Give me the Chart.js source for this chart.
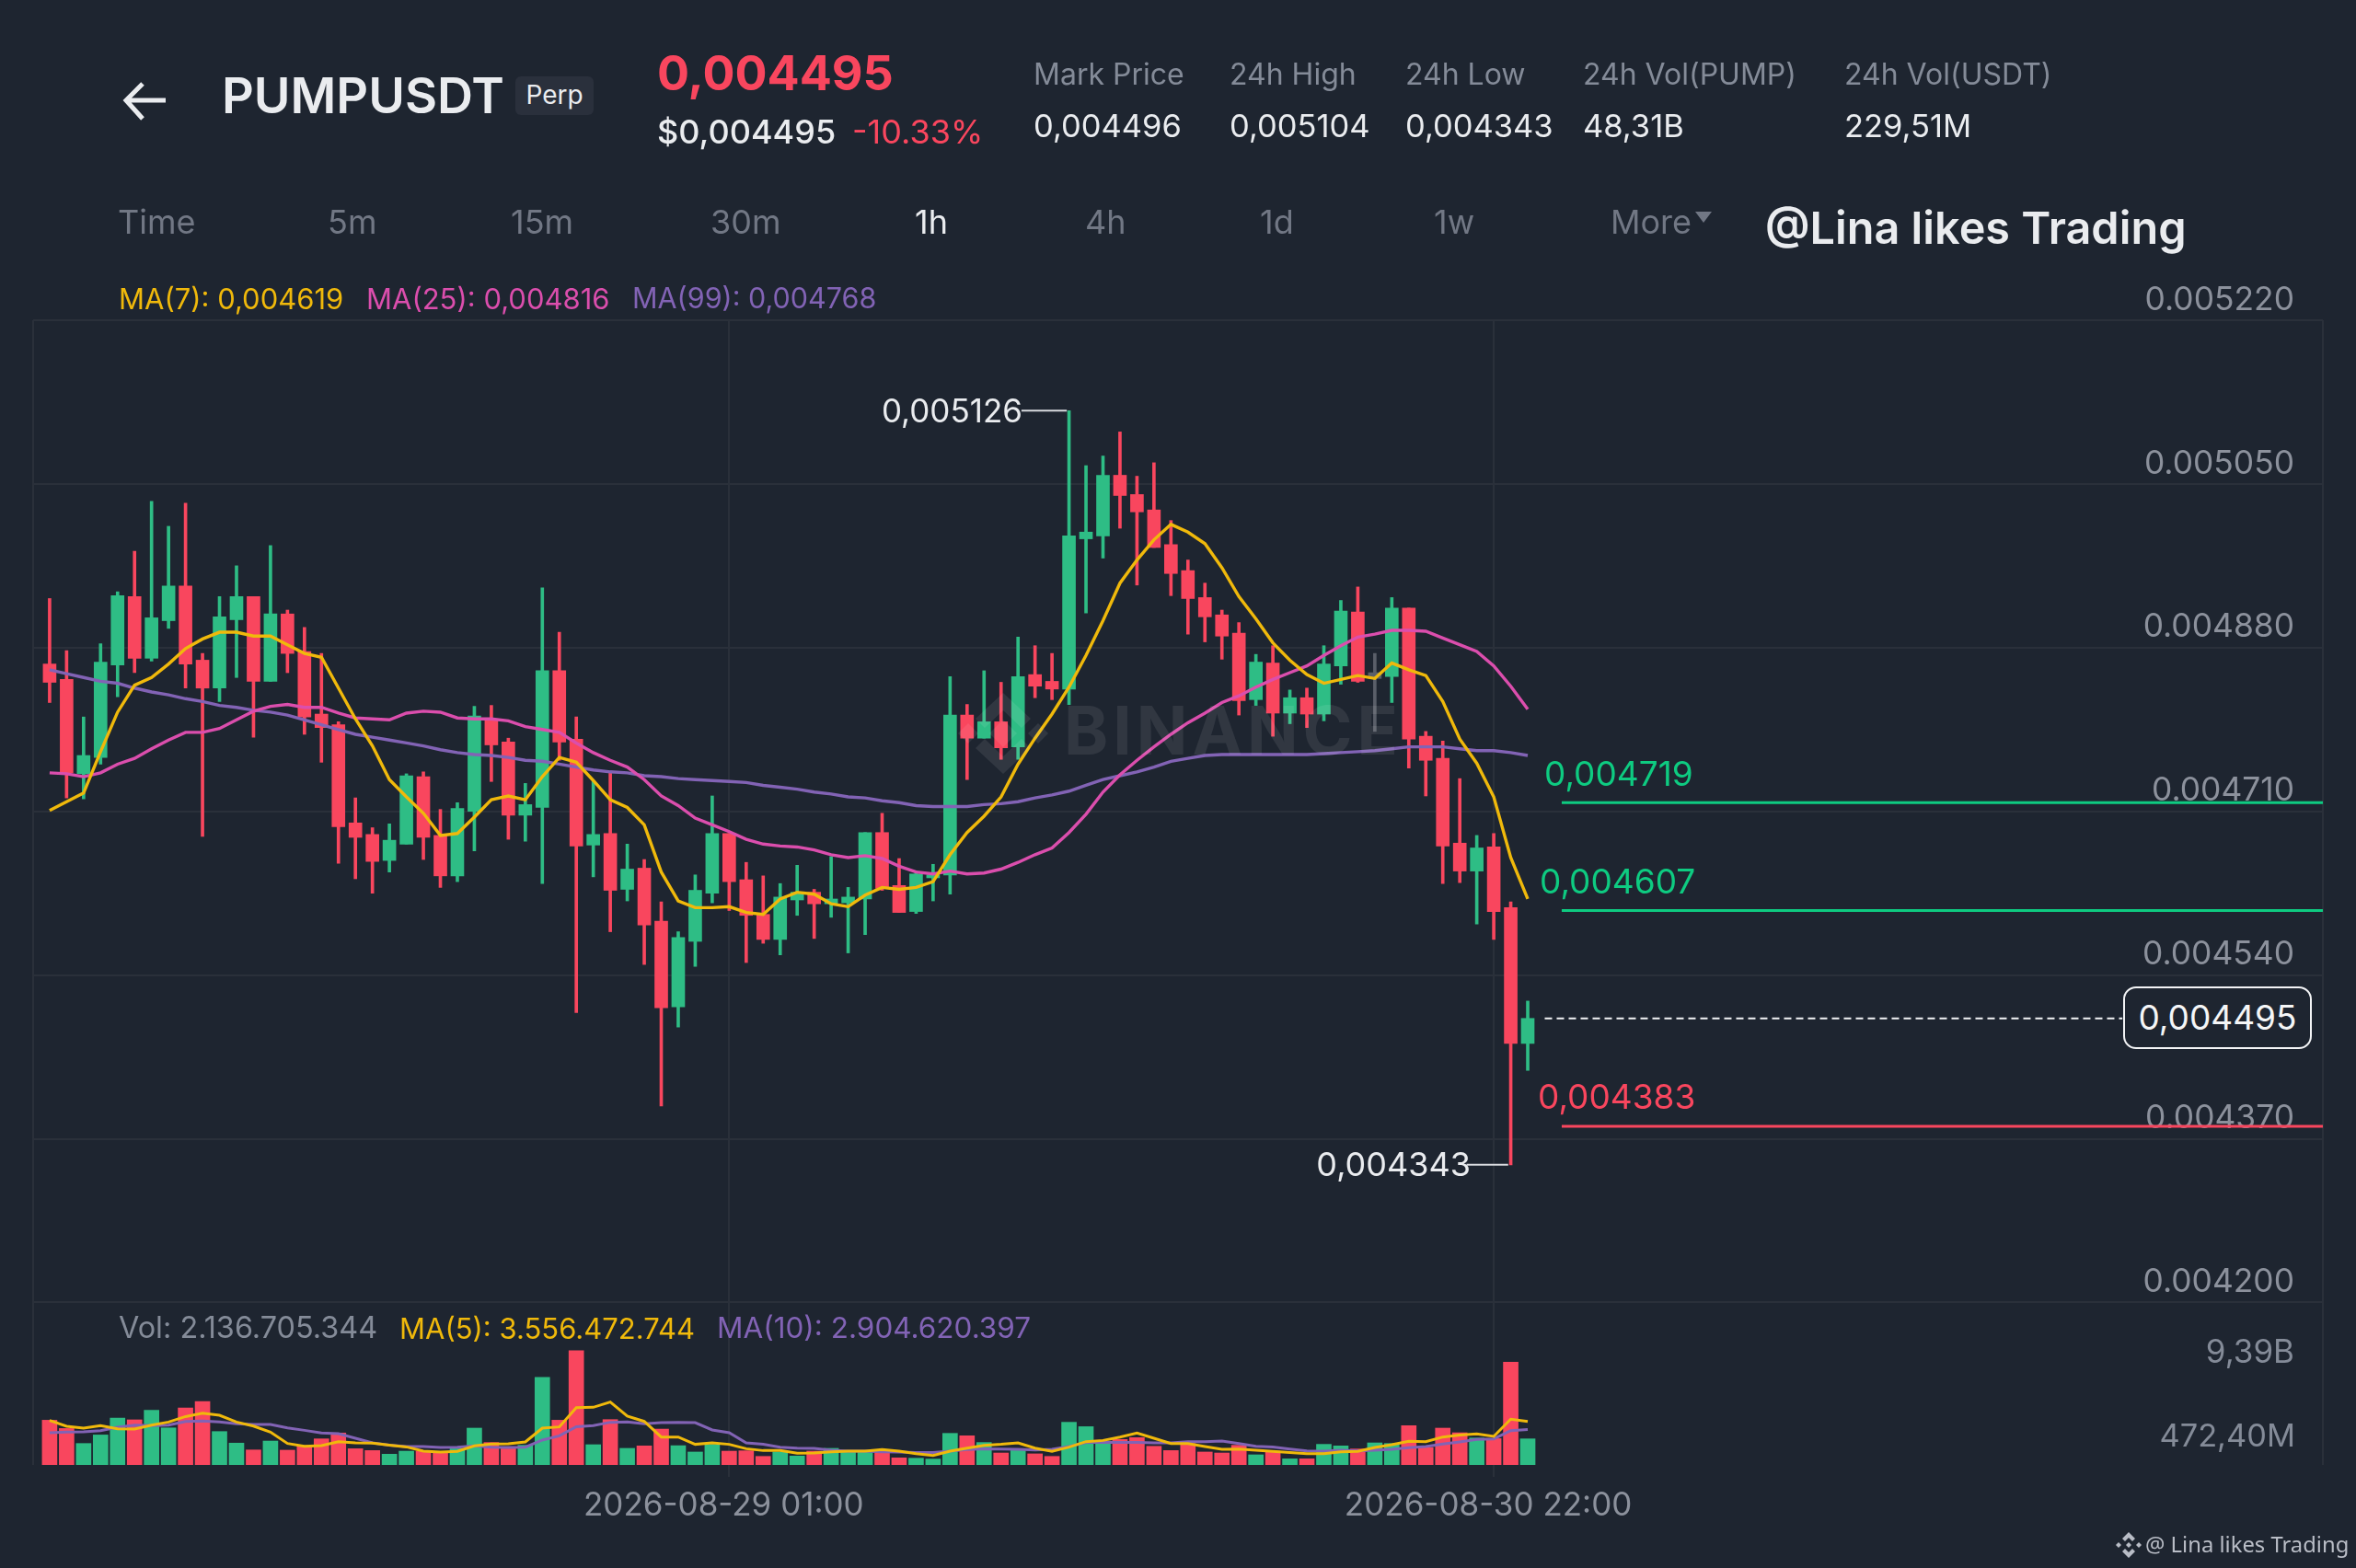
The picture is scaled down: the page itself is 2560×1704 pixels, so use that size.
<!DOCTYPE html>
<html lang="en">
<head>
<meta charset="UTF-8">
<title>PUMPUSDT Perp</title>
<script src="https://cdn.jsdelivr.net/npm/chart.js"></script>
<style>
    html, body { margin: 0; padding: 0; background: #1E2530; }
    #page { position: relative; width: 2560px; height: 1704px; overflow: hidden; background: #1E2530; font-family: Inter, sans-serif; }
    canvas { position: absolute; left: 0; top: 0; }
    .t { position: absolute; line-height: 1; white-space: nowrap; transform: translateY(-50%); font-size: 34.5px; }
    .gray { color: #848B98; }
    .head { font-size: 32px; }
    .white { color: #EAECEF; }
    .tab { font-size: 36px; color: #717784; }
    .ma { font-size: 31px; }
    .yellow { color: #F0B90B; }
    .pink { color: #DB4EAD; }
    .purple { color: #8263B5; }
    .green { color: #0ECB81; }
    .red { color: #F9465E; }
    .lvl { font-size: 37px; }
    #perp { position: absolute; left: 560px; top: 83px; width: 85px; height: 42px; border-radius: 6px; background: #2A303C; color: #EAECEF; font-size: 28px; line-height: 40px; text-align: center; }
    #lastbox { position: absolute; left: 2307px; top: 1072px; width: 201px; height: 64px; border: 2px solid #F2F3F5; border-radius: 14px; background: #1E2530; color: #F5F6F7; font-size: 37px; line-height: 64px; text-align: center; }
    #wm { position: absolute; left: 1156px; top: 793px; transform: translateY(-50%); font-size: 73px; font-weight: 700; line-height: 1; letter-spacing: 5px; color: rgba(255,255,255,0.085); }
</style>
</head>
<body>
<div id="page">
    <canvas id="chart" width="2560" height="1704"></canvas>

    <!--header-->
    <svg style="position:absolute;left:0;top:0" width="200" height="200"><path d="M180 109H137M155 91L137 109L155 129" fill="none" stroke="#EAECEF" stroke-width="5"/></svg>
    <div class="t white" style="left:241px;top:104px;font-size:54px;font-weight:600">PUMPUSDT</div>
    <div id="perp">Perp</div>
    <div class="t red" style="left:714px;top:80px;font-size:52px;font-weight:700">0,004495</div>
    <div class="t white" style="left:714px;top:143px;font-size:36px;font-weight:500">$0,004495</div>
    <div class="t red" style="left:926px;top:143px;font-size:36px">-10.33%</div>

    <div class="t gray head" style="left:1123px;top:81px">Mark Price</div>
    <div class="t white" style="left:1123px;top:137px">0,004496</div>
    <div class="t gray head" style="left:1336px;top:81px">24h High</div>
    <div class="t white" style="left:1336px;top:137px">0,005104</div>
    <div class="t gray head" style="left:1527px;top:81px">24h Low</div>
    <div class="t white" style="left:1527px;top:137px">0,004343</div>
    <div class="t gray head" style="left:1720px;top:81px">24h Vol(PUMP)</div>
    <div class="t white" style="left:1720px;top:137px">48,31B</div>
    <div class="t gray head" style="left:2004px;top:81px">24h Vol(USDT)</div>
    <div class="t white" style="left:2004px;top:137px">229,51M</div>

    <!--tabs-->
    <div class="t tab" style="left:128px;top:241px">Time</div>
    <div class="t tab" style="left:356px;top:241px">5m</div>
    <div class="t tab" style="left:555px;top:241px">15m</div>
    <div class="t tab" style="left:772px;top:241px">30m</div>
    <div class="t tab" style="left:994px;top:241px;color:#EAECEF">1h</div>
    <div class="t tab" style="left:1179px;top:241px">4h</div>
    <div class="t tab" style="left:1369px;top:241px">1d</div>
    <div class="t tab" style="left:1558px;top:241px">1w</div>
    <div class="t tab" style="left:1750px;top:241px">More</div>
    <svg style="position:absolute;left:1840px;top:228px" width="22" height="16"><path d="M2 2H20L11 14Z" fill="#717784"/></svg>
    <div class="t white" style="left:1918px;top:248px;font-size:48.6px;font-weight:600">@Lina likes Trading</div>

    <!--legends-->
    <div class="t ma yellow" style="left:129px;top:324px">MA(7): 0,004619</div>
    <div class="t ma pink" style="left:398px;top:324px;font-size:31px">MA(25): 0,004816</div>
    <div class="t ma purple" style="left:687px;top:324px;font-size:30.5px">MA(99): 0,004768</div>
    <div class="t ma gray" style="left:129px;top:1443px;font-size:32.4px">Vol: 2.136.705.344</div>
    <div class="t ma yellow" style="left:434px;top:1443px">MA(5): 3.556.472.744</div>
    <div class="t ma purple" style="left:779px;top:1443px;font-size:31.5px">MA(10): 2.904.620.397</div>

    <!--marks on the chart-->
    <div class="t white" style="right:1449px;top:446px;font-size:35px">0,005126</div>
    <div class="t white" style="right:962px;top:1265px;font-size:36px">0,004343</div>
    <div class="t lvl green" style="left:1678px;top:840px">0,004719</div>
    <div class="t lvl green" style="left:1673px;top:957px">0,004607</div>
    <div class="t lvl red" style="left:1671px;top:1191px">0,004383</div>
    <div id="lastbox">0,004495</div>
    <div class="t gray" style="right:67px;top:1468px;font-size:35px">9,39B</div>
    <div class="t gray" style="right:66px;top:1560px;font-size:34.4px">472,40M</div>

    <!--watermark-->
    <div id="wm">BINANCE</div>
    <svg style="position:absolute;left:1040px;top:745px" width="100" height="104"><g fill="rgba(255,255,255,0.085)"><path d="M50 8L80 36L70 46L50 27L30 46L20 36Z"/><path d="M50 96L80 68L70 58L50 77L30 58L20 68Z"/><path d="M50 37L65 52L50 67L35 52Z"/><path d="M12 41L23 52L12 63L1 52Z"/><path d="M88 41L99 52L88 63L77 52Z"/></g></svg>

    <svg style="position:absolute;left:2298px;top:1664px" width="30" height="30"><g fill="#B9BDC6"><path d="M15 1L22 8L19 11L15 7L11 11L8 8Z"/><path d="M15 29L22 22L19 19L15 23L11 19L8 22Z"/><path d="M15 12L18 15L15 18L12 15Z"/><path d="M4 12L7 15L4 18L1 15Z"/><path d="M26 12L29 15L26 18L23 15Z"/></g></svg>
    <div class="t" style="left:2331px;top:1679px;font-size:23.8px;color:#B9BDC6;font-family:'Noto Sans',sans-serif">@ Lina likes Trading</div>
</div>

<script>
// prices are in millionths of USDT, one hour per candle
const opens = [4863,4847,4749,4766,4862,4933,4869,4908,4944,4867,
    4838,4909,4933,4845,4915,4876,4811,4800,4698,4686,
    4659,4676,4746,4685,4643,4710,4806,4782,4706,4714,
    4856,4785,4675,4687,4629,4651,4596,4507,4575,4625,
    4687,4639,4603,4577,4618,4626,4614,4615,4619,4688,
    4633,4606,4641,4644,4810,4786,4803,4777,4852,4845,
    4837,4993,4996,5059,5039,5023,4987,4960,4932,4914,
    4895,4826,4864,4812,4828,4811,4861,4917,4848,4850,
    4921,4788,4765,4677,4648,4673,4610,4469];
const closes = [4844,4750,4768,4865,4934,4869,4911,4944,4863,4838,
    4912,4933,4845,4915,4874,4808,4797,4694,4683,4658,
    4680,4747,4683,4643,4713,4809,4779,4706,4717,4856,
    4782,4674,4686,4628,4650,4592,4506,4579,4628,4687,
    4637,4602,4577,4621,4626,4614,4619,4621,4688,4630,
    4605,4645,4644,4810,4786,4803,4776,4850,4840,4837,
    4996,5000,5059,5038,5021,4984,4957,4931,4912,4892,
    4825,4865,4812,4828,4811,4863,4918,4845,4854,4921,
    4785,4763,4674,4648,4672,4606,4469,4495];
const highs = [4931,4877,4808,4884,4938,4980,5032,5006,5030,4874,
    4933,4965,4933,4986,4919,4901,4874,4803,4724,4693,
    4697,4749,4751,4712,4719,4819,4820,4786,4739,4942,
    4896,4808,4741,4750,4676,4660,4616,4585,4644,4726,
    4687,4657,4643,4635,4654,4629,4663,4631,4688,4708,
    4661,4648,4655,4850,4821,4856,4844,4891,4882,4874,
    5126,5069,5079,5104,5058,5072,5012,4971,4947,4919,
    4906,4873,4882,4836,4838,4882,4929,4943,4874,4932,
    4921,4793,4783,4744,4685,4687,4616,4513];
const lows = [4823,4724,4723,4759,4829,4854,4866,4900,4838,4684,
    4824,4849,4787,4845,4854,4790,4761,4656,4640,4625,
    4647,4676,4660,4631,4637,4669,4741,4681,4679,4635,
    4763,4501,4642,4585,4617,4551,4404,4486,4549,4615,
    4607,4553,4573,4561,4602,4578,4600,4563,4582,4628,
    4605,4604,4617,4624,4743,4786,4764,4764,4828,4826,
    4821,4916,4973,5004,4945,4984,4934,4894,4886,4868,
    4810,4820,4788,4801,4797,4804,4842,4844,4793,4823,
    4755,4726,4635,4636,4593,4577,4343,4441];
const ma7 = [4711,4720,4729,4772,4813,4841,4849,4863,4879,4889,
    4896,4896,4892,4892,4883,4874,4870,4838,4806,4778,
    4743,4725,4708,4685,4687,4704,4722,4726,4722,4746,
    4766,4761,4742,4722,4714,4696,4647,4617,4610,4610,
    4611,4605,4603,4619,4626,4624,4614,4611,4623,4631,
    4629,4631,4637,4665,4688,4705,4725,4759,4786,4811,
    4839,4872,4908,4947,4971,4992,5008,5000,4988,4963,
    4933,4910,4885,4867,4852,4843,4847,4851,4848,4864,
    4857,4851,4824,4785,4760,4725,4662,4619];
const ma25 = [4750,4749,4746,4750,4759,4765,4775,4784,4792,4792,
    4796,4805,4814,4819,4821,4818,4818,4812,4807,4806,
    4805,4812,4814,4813,4807,4806,4806,4804,4798,4795,
    4792,4781,4771,4763,4756,4743,4726,4716,4703,4696,
    4689,4681,4676,4674,4673,4670,4665,4662,4664,4661,
    4653,4647,4645,4648,4645,4646,4650,4657,4665,4672,
    4688,4707,4730,4748,4763,4777,4790,4802,4812,4823,
    4830,4839,4847,4854,4861,4872,4882,4891,4894,4898,
    4898,4897,4890,4883,4876,4861,4840,4816];
const ma99 = [4857,4853,4849,4845,4843,4838,4834,4831,4827,4824,
    4820,4818,4815,4813,4810,4805,4800,4795,4790,4787,
    4784,4781,4778,4774,4771,4769,4768,4766,4763,4762,
    4759,4756,4753,4751,4750,4747,4746,4744,4743,4742,
    4741,4740,4737,4735,4733,4730,4728,4725,4724,4721,
    4719,4716,4715,4715,4715,4717,4718,4720,4724,4727,
    4731,4737,4743,4747,4751,4756,4762,4765,4768,4769,
    4769,4769,4769,4769,4769,4770,4771,4772,4773,4775,
    4777,4777,4777,4775,4773,4773,4771,4768];
// volumes in billions
const volumes = [3.67,2.99,1.76,2.46,3.85,3.70,4.48,3.04,4.68,5.21,
    2.74,1.79,1.23,1.96,1.21,1.58,2.14,2.62,1.33,1.18,
    0.88,1.13,1.13,1.03,1.33,3.02,1.84,1.33,1.61,7.19,
    3.67,9.38,1.66,3.72,1.36,1.56,2.94,1.58,1.06,1.69,
    1.13,1.16,0.70,1.06,0.73,1.13,1.36,1.13,1.13,1.03,
    0.58,0.55,0.48,2.59,2.39,1.84,0.98,1.18,0.91,0.70,
    3.50,3.14,1.76,2.09,2.24,1.53,1.18,1.76,1.06,0.98,
    1.61,0.83,1.13,0.50,0.50,1.69,1.56,1.31,1.81,1.76,
    3.22,1.43,3.02,2.64,2.21,2.16,8.43,2.14];
const volMa5 = [3.65,3.17,3.02,3.22,2.97,2.94,3.27,3.52,3.97,4.25,
    4.07,3.52,3.19,2.69,1.76,1.53,1.58,1.91,1.81,1.79,
    1.63,1.48,1.13,1.06,1.11,1.56,1.71,1.74,1.89,3.02,
    3.12,4.70,4.73,5.16,4.00,3.57,2.29,2.29,1.69,1.81,
    1.69,1.33,1.18,1.18,0.96,0.98,1.08,1.13,1.13,1.26,
    1.13,0.93,0.78,1.13,1.38,1.61,1.69,1.81,1.38,1.11,
    1.46,1.91,2.01,2.29,2.62,2.19,1.76,1.76,1.51,1.28,
    1.31,1.21,1.11,1.01,0.93,0.93,1.08,1.11,1.43,1.66,
    1.94,1.91,2.29,2.46,2.54,2.34,3.75,3.56];
const volMa10 = [2.64,2.69,2.72,2.82,3.09,3.27,3.22,3.27,3.57,3.60,
    3.52,3.37,3.32,3.32,3.04,2.84,2.62,2.57,2.19,1.81,
    1.63,1.51,1.51,1.43,1.46,1.56,1.46,1.43,1.46,2.04,
    2.39,3.14,3.22,3.50,3.52,3.37,3.47,3.50,3.47,2.87,
    2.64,1.81,1.69,1.46,1.38,1.36,1.21,1.13,1.13,1.08,
    1.06,1.01,1.01,1.13,1.26,1.33,1.31,1.28,1.23,1.28,
    1.51,1.84,1.86,1.84,1.84,1.81,1.81,1.91,1.91,1.96,
    1.76,1.53,1.48,1.31,1.16,1.13,1.21,1.16,1.21,1.28,
    1.41,1.51,1.71,1.89,2.09,2.14,2.82,2.90];

const priceTicks = [5220,5050,4880,4710,4540,4370,4200];
const priceTickLabels = ['0.005220','0.005050','0.004880','0.004710','0.004540','0.004370','0.004200'];
const timeTickIndex = [40,85];
const timeTickLabels = ['2026-08-29 01:00','2026-08-30 22:00'];
const levels = [4719,4607,4383];
const lastPrice = 4495;
const peakPrice = 5126;
const lowPrice = 4343;

const GREEN = '#2EBD85', RED = '#F9465E', GREY = '#5A5F69', LEVEL_GREEN = '#0ECB81';
const GRID = '#2A303A';
const xMin = -0.97, xMax = 133.8;
const greyCandle = 78; // this one is faded in the screenshot

const candleColor = (i) => i == greyCandle ? GREY : (closes[i] >= opens[i] ? GREEN : RED);
const volColor = (i) => closes[i] >= opens[i] ? GREEN : RED;
const colors = opens.map((v, i) => candleColor(i));
const volColors = opens.map((v, i) => volColor(i));

function lineSet(values, color, axis, order, width) {
    return {
        type: 'line', yAxisID: axis, order: order,
        data: values.map((v, i) => ({x: i, y: v})),
        borderColor: color, borderWidth: width, pointRadius: 0, tension: 0
    };
}
function flatLine(from, to, y, color, width, dash) {
    return {
        type: 'line', yAxisID: 'y', order: 0,
        data: [{x: from, y: y}, {x: to, y: y}],
        borderColor: color, borderWidth: width, borderDash: dash || [], pointRadius: 0
    };
}

new Chart(document.getElementById('chart'), {
    type: 'bar',
    data: {
        datasets: [
            {yAxisID: 'y', order: 10, grouped: false, barThickness: 3, backgroundColor: colors,
                data: highs.map((v, i) => ({x: i, y: [lows[i], v]}))},
            {yAxisID: 'y', order: 9, grouped: false, barThickness: 14, backgroundColor: colors,
                data: opens.map((v, i) => ({x: i, y: [v, closes[i]]}))},
            {yAxisID: 'yVol', order: 8, grouped: false, barThickness: 16, backgroundColor: volColors,
                data: volumes.map((v, i) => ({x: i, y: v}))},
            lineSet(ma99, '#8263B5', 'y', 4, 3.4),
            lineSet(ma25, '#DB4EAD', 'y', 3, 3.4),
            lineSet(ma7, '#F0B90B', 'y', 2, 3.4),
            lineSet(volMa10, '#8263B5', 'yVol', 5, 3),
            lineSet(volMa5, '#F0B90B', 'yVol', 4, 3),
            flatLine(89, xMax, levels[0], LEVEL_GREEN, 3),
            flatLine(89, xMax, levels[1], LEVEL_GREEN, 3),
            flatLine(89, xMax, levels[2], RED, 3),
            flatLine(88, 122, lastPrice, '#F2F3F5', 2, [8, 5]),
            flatLine(57.2, 59.87, peakPrice, '#D9DBDF', 2),
            flatLine(83.4, 85.85, lowPrice, '#D9DBDF', 2)
        ]
    },
    options: {
        responsive: false,
        devicePixelRatio: 1,
        animation: false,
        layout: {padding: {left: 36, right: 36, top: 348, bottom: 0}},
        plugins: {legend: {display: false}, tooltip: {enabled: false}},
        scales: {
            x: {
                type: 'linear', min: xMin, max: xMax, offset: false,
                afterBuildTicks: (s) => { s.ticks = [xMin, ...timeTickIndex, xMax].map((v) => ({value: v})); },
                afterFit: (s) => { s.height = 112; },
                border: {display: false},
                grid: {
                    offset: false, color: GRID, lineWidth: 2, tickLength: 13,
                    // only the two time ticks reach below the pane
                    tickColor: (c) => timeTickIndex.includes(c.tick.value) ? GRID : 'transparent'
                },
                ticks: {
                    autoSkip: false, maxRotation: 0, padding: 10, labelOffset: -6,
                    color: '#8C919C', font: {family: 'Inter', size: 35},
                    callback: (v) => { const k = timeTickIndex.indexOf(v); return k < 0 ? '' : timeTickLabels[k]; }
                }
            },
            y: {
                position: 'right', min: 4031.3, max: 5220,
                afterBuildTicks: (s) => { s.ticks = priceTicks.map((v) => ({value: v})); },
                afterFit: (s) => { s.width = 0; },
                border: {display: false},
                grid: {color: GRID, lineWidth: 2, drawTicks: false},
                ticks: {
                    mirror: true, padding: -31, labelOffset: -22, autoSkip: false,
                    color: '#8C919C', font: {family: 'Inter', size: 35.4},
                    callback: (v) => priceTickLabels[priceTicks.indexOf(v)]
                }
            },
            yVol: {position: 'right', min: 0, max: 93.9, display: false}
        }
    }
});
</script>
</body>
</html>
